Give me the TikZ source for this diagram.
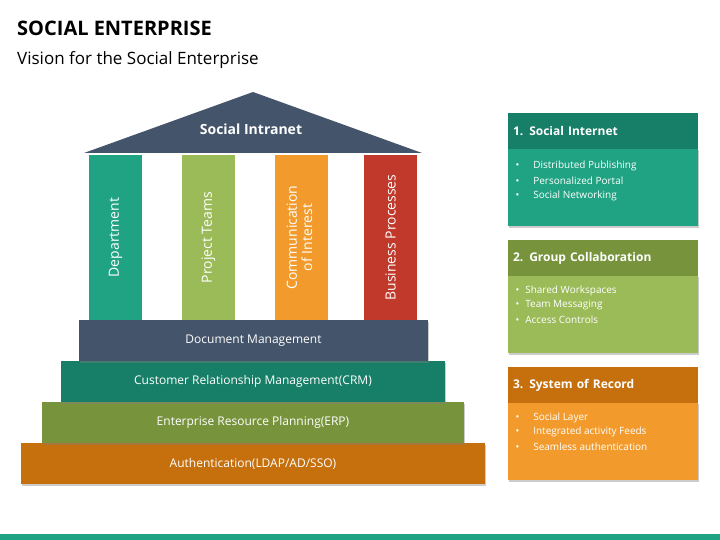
\documentclass[tikz,border=0pt]{standalone}
\usepackage{fontspec}
\setmainfont{Open Sans}
\usetikzlibrary{shadows}
\definecolor{slate}{HTML}{44546A}
\definecolor{teal1}{HTML}{1FA383}
\definecolor{teal2}{HTML}{177E67}
\definecolor{grn1}{HTML}{9BBB59}
\definecolor{grn2}{HTML}{77933C}
\definecolor{org1}{HTML}{F29B2C}
\definecolor{org2}{HTML}{C5700C}
\definecolor{red1}{HTML}{C0392B}
\begin{document}
\begin{tikzpicture}[x=1pt,y=-1pt,
 col/.style={minimum width=53pt,minimum height=165pt,inner sep=0,text=white,font=\fontsize{14}{15}\selectfont,align=center},
 stair/.style={inner sep=0,text=white,font=\fontsize{12}{13}\selectfont,drop shadow={shadow xshift=1pt,shadow yshift=-2pt,opacity=.4}},
 hdr/.style={fill=#1,minimum width=190pt,minimum height=36pt,inner sep=0,text=white,font=\bfseries\fontsize{12}{13}\selectfont},
 body/.style={fill=#1,minimum width=190pt,minimum height=78pt,inner sep=0,drop shadow={shadow xshift=1pt,shadow yshift=-2pt,opacity=.4}},
 itm/.style={anchor=west,text=white,font=\fontsize{10}{11}\selectfont}]
\useasboundingbox (0,0) rectangle (720,540);
\node[anchor=west,font=\bfseries\fontsize{20}{22}\selectfont,inner sep=0] (t) at (17,28) {SOCIAL ENTERPRISE};
\node[anchor=west,font=\fontsize{17}{19}\selectfont,inner sep=0] (st) at (17,60) {Vision for the Social Enterprise};
\fill[slate] (84,153) -- (253,92) -- (422,153) -- cycle;
\node[text=white,font=\bfseries\fontsize{14}{15}\selectfont] (roof) at (251,129) {Social Intranet};
\node[col,fill=teal1] (c1) at (115.5,237.5) {\rotatebox{90}{Department}};
\node[col,fill=grn1] (c2) at (208.5,237.5) {\rotatebox{90}{Project Teams}};
\node[col,fill=org1] (c3) at (301.5,237.5) {\rotatebox{90}{\begin{tabular}{c}Communication\\of Interest\end{tabular}}};
\node[col,fill=red1] (c4) at (390.5,237.5) {\rotatebox{90}{Business Processes}};
\node[stair,fill=org2,minimum width=464pt,minimum height=41pt] (s4) at (253,463.5) {Authentication(LDAP/AD/SSO)};
\node[stair,fill=grn2,minimum width=422pt,minimum height=41pt] (s3) at (253,422.5) {Enterprise Resource Planning(ERP)};
\node[stair,fill=teal2,minimum width=384pt,minimum height=41pt] (s2) at (253,381.5) {Customer Relationship Management(CRM)};
\node[stair,fill=slate,minimum width=349pt,minimum height=41pt] (s1) at (253.5,340.5) {Document Management};
% panels
\node[body=teal1] (b1) at (603,187.5) {};
\node[hdr=teal2,anchor=north,text width=180pt] (h1) at (603,113) {1. Social Internet};
\node[itm] at (512,166) {•\hspace{14pt}Distributed Publishing};
\node[itm] at (512,181) {•\hspace{14pt}Personalized Portal};
\node[itm] at (512,196) {•\hspace{14pt}Social Networking};
\node[body=grn1] (b2) at (603,314) {};
\node[hdr=grn2,anchor=north,text width=180pt] (h2) at (603,240) {2. Group Collaboration};
\node[itm] at (512,291) {•\hspace{6pt}Shared Workspaces};
\node[itm] at (512,305) {•\hspace{6pt}Team Messaging};
\node[itm] at (512,320) {•\hspace{6pt}Access Controls};
\node[body=org1] (b3) at (603,441) {};
\node[hdr=org2,anchor=north,text width=180pt] (h3) at (603,367) {3. System of Record};
\node[itm] at (512,418) {•\hspace{14pt}Social Layer};
\node[itm] at (512,432) {•\hspace{14pt}Integrated activity Feeds};
\node[itm] at (512,447) {•\hspace{14pt}Seamless authentication};
\fill[teal1] (0,534) rectangle (720,540);
\end{tikzpicture}
\end{document}
